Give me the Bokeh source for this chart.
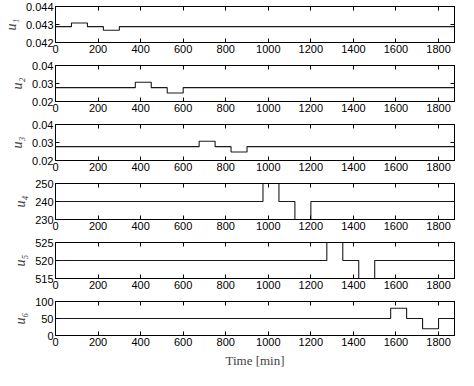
from bokeh.plotting import figure
from bokeh.layouts import column
from bokeh.models import Range1d, FixedTicker, LinearAxis
from bokeh.embed import file_html
from bokeh.resources import INLINE

# ---- data ----
x_ticks = [0, 200, 400, 600, 800, 1000, 1200, 1400, 1600, 1800]
t_end = 1875

u1_t = [0, 75, 150, 225, 300, 1875]
u1_v = [0.04288, 0.04308, 0.04288, 0.04268, 0.04288, 0.04288]
u2_t = [0, 375, 450, 525, 600, 1875]
u2_v = [0.0277, 0.0307, 0.0277, 0.0247, 0.0277, 0.0277]
u3_t = [0, 675, 750, 825, 900, 1875]
u3_v = [0.0277, 0.0307, 0.0277, 0.0247, 0.0277, 0.0277]
u4_t = [0, 975, 1050, 1125, 1200, 1875]
u4_v = [240, 260, 240, 220, 240, 240]
u5_t = [0, 1275, 1350, 1425, 1500, 1875]
u5_v = [520, 530, 520, 510, 520, 520]
u6_t = [0, 1575, 1650, 1725, 1800, 1875]
u6_v = [50, 80, 50, 20, 50, 50]

labels = ["u\u2081", "u\u2082", "u\u2083", "u\u2084", "u\u2085", "u\u2086"]
y_ranges = [(0.042, 0.044), (0.02, 0.04), (0.02, 0.04), (230, 250), (515, 525), (0, 100)]
y_ticks = [[0.042, 0.043, 0.044], [0.02, 0.03, 0.04], [0.02, 0.03, 0.04],
           [230, 240, 250], [515, 520, 525], [0, 50, 100]]
series = [(u1_t, u1_v), (u2_t, u2_v), (u3_t, u3_v), (u4_t, u4_v), (u5_t, u5_v), (u6_t, u6_v)]

TICK_FONT = "Liberation Sans"
W = 458

figs = []
for i, ((tt, vv), lab, yr, yt) in enumerate(zip(series, labels, y_ranges, y_ticks)):
    last = i == 5
    h = 75 if last else 59
    p = figure(width=W, height=h, output_backend="svg", toolbar_location=None,
               x_range=Range1d(0, t_end), y_range=Range1d(*yr),
               min_border_left=44, min_border_right=4, min_border_top=6,
               min_border_bottom=33 if last else 17, x_axis_location=None,
               y_axis_location=None)
    p.outline_line_color = "black"
    p.outline_line_width = 1
    p.outline_line_alpha = 1
    p.xgrid.visible = False
    p.ygrid.visible = False
    p.background_fill_color = "white"
    p.border_fill_color = "white"

    p.step(tt, vv, mode="after", line_color="#1a1a1a", line_width=1.1)

    for loc in ["below", "above"]:
        ax = LinearAxis(ticker=FixedTicker(ticks=x_ticks))
        ax.major_tick_in = 4
        ax.major_tick_out = 0
        ax.minor_tick_line_color = None
        ax.axis_line_color = "black"
        ax.major_tick_line_color = "black"
        if loc == "below":
            ax.major_label_text_font = TICK_FONT
            ax.major_label_text_font_size = "11px"
            ax.major_label_text_color = "black"
            ax.major_label_standoff = 2
            if last:
                ax.axis_label = "Time [min]"
                ax.axis_label_text_font = "Liberation Serif"
                ax.axis_label_text_font_style = "normal"
                ax.axis_label_text_font_size = "13px"
                ax.axis_label_standoff = 4
        else:
            ax.major_label_text_color = None
            ax.major_label_standoff = 0
        p.add_layout(ax, loc)

    for loc in ["left", "right"]:
        ax = LinearAxis(ticker=FixedTicker(ticks=yt))
        ax.major_tick_in = 4
        ax.major_tick_out = 0
        ax.minor_tick_line_color = None
        ax.axis_line_color = "black"
        ax.major_tick_line_color = "black"
        if loc == "left":
            ax.major_label_text_font = TICK_FONT
            ax.major_label_text_font_size = "11px"
            ax.major_label_text_color = "black"
            ax.major_label_standoff = 2
            ax.axis_label = lab
            ax.axis_label_text_font = "Liberation Serif"
            ax.axis_label_text_font_style = "italic"
            ax.axis_label_text_font_size = "14px"
            ax.axis_label_standoff = 4
        else:
            ax.major_label_text_color = None
            ax.major_label_standoff = 0
        p.add_layout(ax, loc)
    figs.append(p)

layout = column(*figs, spacing=0)
open("out.html", "w").write(file_html(layout, INLINE))
